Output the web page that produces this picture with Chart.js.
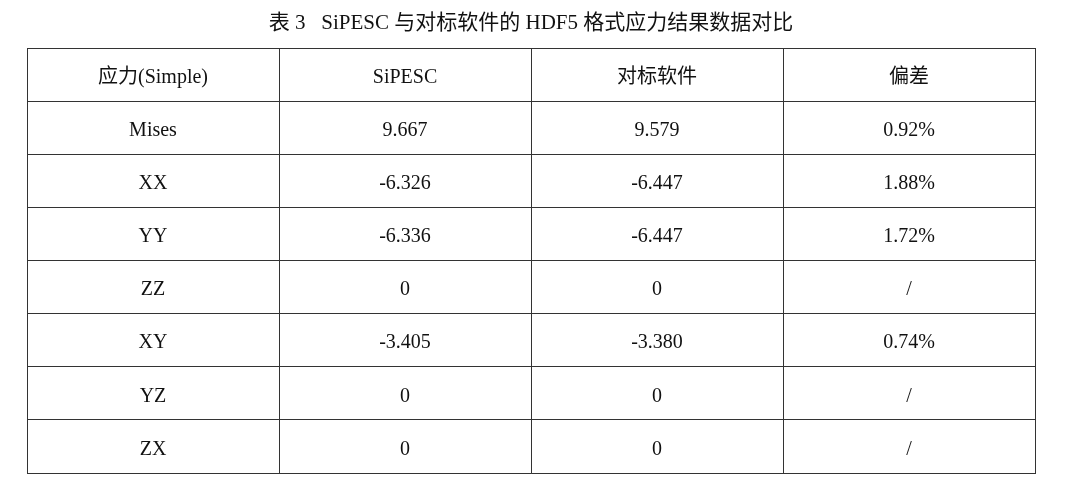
<!DOCTYPE html>
<html><head><meta charset="utf-8">
<script src="https://cdn.jsdelivr.net/npm/chart.js@4/dist/chart.umd.min.js"></script>
<style>html,body{margin:0;padding:0;background:#fff}#w{width:1065px;height:501px}</style>
</head><body><div id="w"><canvas id="c"></canvas></div>
<script>
const title = "表 3\u00a0\u00a0\u00a0SiPESC 与对标软件的 HDF5 格式应力结果数据对比";
const headers = ["应力(Simple)", "SiPESC", "对标软件", "偏差"];
const components = ["Mises", "XX", "YY", "ZZ", "XY", "YZ", "ZX"];
const sipesc = ["9.667", "-6.326", "-6.336", "0", "-3.405", "0", "0"];
const reference = ["9.579", "-6.447", "-6.447", "0", "-3.380", "0", "0"];
const deviation = ["0.92%", "1.88%", "1.72%", "/", "0.74%", "/", "/"];

const columns = [components, sipesc, reference, deviation];
const FONT = '"Liberation Serif", "Noto Sans CJK SC", serif';

const tablePlugin = {
  id: 'tableText',
  afterDraw(chart) {
    const {ctx, scales: {x, y}} = chart;
    ctx.save();
    ctx.fillStyle = '#111';
    ctx.textAlign = 'center';
    ctx.textBaseline = 'middle';
    ctx.font = '21px ' + FONT;
    ctx.fillText(title, (x.left + x.right) / 2, 23);
    ctx.font = '20px ' + FONT;
    const dy = 3;
    headers.forEach((h, c) => ctx.fillText(h, x.getPixelForValue(c + 0.5), y.getPixelForValue(0.5) + dy));
    columns.forEach((col, c) => col.forEach((v, r) =>
      ctx.fillText(v, x.getPixelForValue(c + 0.5), y.getPixelForValue(r + 1.5) + dy)));
    ctx.restore();
  }
};

new Chart(document.getElementById('c'), {
  type: 'scatter',
  data: { datasets: [{ data: [] }] },
  options: {
    responsive: true, maintainAspectRatio: false, animation: false,
    layout: { padding: { left: 27, right: 30, top: 48, bottom: 28 } },
    plugins: { legend: { display: false }, tooltip: { enabled: false } },
    scales: {
      x: { type: 'linear', min: 0, max: headers.length,
        ticks: { display: false, stepSize: 1 },
        grid: { color: '#333', lineWidth: 1, drawTicks: false },
        border: { color: '#333' } },
      y: { type: 'linear', reverse: true, min: 0, max: components.length + 1,
        ticks: { display: false, stepSize: 1 },
        grid: { color: '#333', lineWidth: 1, drawTicks: false },
        border: { color: '#333' } }
    }
  },
  plugins: [tablePlugin]
});
</script></body></html>
